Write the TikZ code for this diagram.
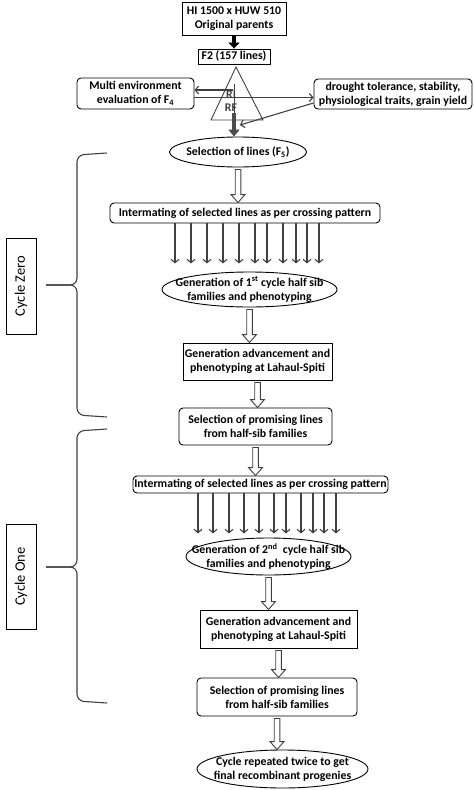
\documentclass[tikz,border=0pt]{standalone}
\usepackage{fontspec}
\setmainfont{Carlito}
\usetikzlibrary{arrows.meta,shapes.geometric,calc}
\definecolor{linegray}{RGB}{64,64,64}
\newcommand{\flowfont}{\bfseries\fontsize{11.8}{14}\selectfont}
\newcommand{\cyclefont}{\fontsize{14.5}{16}\selectfont}

\tikzset{
  stepbox/.style={draw, line width=0.9pt, font=\flowfont, align=center, inner sep=1.5pt},
  roundbox/.style={stepbox, rounded corners=4pt},
  ovalbox/.style={draw, line width=0.9pt, ellipse, inner sep=0pt},
  thinarr/.style={draw=linegray, line width=1.1pt, -{Straight Barb[length=3.5pt,width=8pt]}},
  hollowarr/.style={draw=linegray, line width=0.9pt, fill=white,
    to path={let \p1=(\tikztostart), \p2=(\tikztotarget) in
      (\x1-2.8pt,\y1-2pt) -- (\x1-2.8pt,\y2+8pt) -- (\x1-7pt,\y2+8pt) -- (\x1,\y2)
      -- (\x1+7pt,\y2+8pt) -- (\x1+2.8pt,\y2+8pt) -- (\x1+2.8pt,\y1-2pt) -- cycle}},
  cyclebrace/.style={draw=linegray, line width=1.1pt, rounded corners=7pt},
  cyclebox/.style={draw, line width=0.9pt, rotate=90, font=\cyclefont, minimum height=30pt}
}

\begin{document}
\begin{tikzpicture}[x=1pt, y=-1pt]
    \useasboundingbox (0,0) rectangle (474,790);
    % parents and F2
    \node[stepbox, minimum width=104pt, minimum height=33pt] (parents) at (234,18.5) {HI 1500 x HUW 510\\Original parents};
    \node[stepbox, minimum width=72pt, minimum height=15pt, inner sep=1pt] (ftwo) at (234,56.5) {F2 (157 lines)};
    \draw[line width=4pt, -{Triangle[length=6pt,width=11pt]}] (parents) -- (ftwo);
    % RIL triangle and side boxes
    \draw[linegray, line width=0.9pt] (236,67) coordinate (tritop) -- (211,120) coordinate (trileft) -- (263,120) coordinate (triright) -- cycle;
    \node[roundbox, minimum width=117pt, minimum height=31pt] (multi) at (135.5,93.5) {Multi environment\\evaluation of F\textsubscript{4}};
    \node[roundbox, minimum width=158pt, minimum height=30pt] (trait) at (393,94) {drought tolerance, stability,\\physiological traits, grain yield};
    \coordinate (riend) at (233,90);
    \coordinate (lowrow) at (0,97.5);
    \coordinate (rfend) at (240,125);
    \coordinate (rfarrow) at (234,113);
    \draw[thinarr] (riend) -- (riend -| multi.east);
    \draw[thinarr] (multi.east |- lowrow) -- (trait.west |- lowrow);
    \draw[thinarr] ([yshift=-9pt]trait.west) -- (rfend);
    \draw[linegray] (234,84) -- (rfarrow);
    \node[font=\flowfont, text=linegray, inner sep=0pt] (ri) at (231,95) {RI};
    \node[font=\flowfont, text=linegray, inner sep=0pt] (rf) at (231,108) {RF};
    % cycle zero
    \node[ovalbox, minimum width=137pt, minimum height=30pt, label={[font=\flowfont]center:Selection of lines (F\textsubscript{5})}] (sel) at (238,152) {};
    \draw[line width=4pt, black!70, -{Triangle[length=7pt,width=11pt]}] (rfarrow) -- (sel.north -| rfarrow);
    \node[roundbox, minimum width=270pt, minimum height=20pt, inner sep=1pt] (mate1) at (245,213) {Intermating of selected lines as per crossing pattern};
    \foreach \x in {175,191,207,223,239,255,267,283,296,307,319}
      \draw[thinarr] (mate1.south -| \x,0) -- ++(0,40);
    \node[ovalbox, minimum width=175pt, minimum height=35pt, label={[font=\flowfont, align=center]center:{Generation of 1\textsuperscript{st} cycle half sib\\families and phenotyping}}] (gen1) at (249.5,289.5) {};
    \node[stepbox, minimum width=149pt, minimum height=37pt] (adv1) at (257.5,361.5) {Generation advancement and\\phenotyping at Lahaul-Spiti};
    \node[roundbox, minimum width=153pt, minimum height=37pt] (prom1) at (255.5,426.5) {Selection of promising lines\\from half-sib families};
    % cycle one
    \node[roundbox, minimum width=255pt, minimum height=17pt, inner sep=1pt] (mate2) at (260.5,484.5) {Intermating of selected lines as per crossing pattern};
    \foreach \x in {198,213,229,244,259,274,286,301,313,324,336}
      \draw[thinarr] (mate2.south -| \x,0) -- ++(0,40);
    \node[ovalbox, minimum width=165pt, minimum height=37pt, label={[font=\flowfont, align=center]center:{Generation of 2\textsuperscript{nd}\ \ cycle half sib\\families and phenotyping}}] (gen2) at (268.5,556.5) {};
    \node[stepbox, minimum width=157pt, minimum height=38pt] (adv2) at (278.5,629) {Generation advancement and\\phenotyping at Lahaul-Spiti};
    \node[roundbox, minimum width=160pt, minimum height=38pt] (prom2) at (277,697) {Selection of promising lines\\from half-sib families};
    \node[ovalbox, minimum width=171pt, minimum height=38pt, label={[font=\flowfont, align=center]center:{Cycle repeated twice to get\\final recombinant progenies}}] (final) at (282.5,769) {};
    \foreach \a/\b in {sel/mate1, gen1/adv1, adv1/prom1, prom1/mate2, gen2/adv2, adv2/prom2, prom2/final}
      \draw[hollowarr] (\a.south) to (\b.north);
    % braces and cycle labels
    \draw[cyclebrace] (107,153) -- (77,155) -- (77,285) -- (46,285);
    \draw[cyclebrace] (46,285) -- (77,285) -- (77,415) -- (107,417);
    \draw[cyclebrace] (107,429) -- (77,431) -- (77,567) -- (46,567);
    \draw[cyclebrace] (46,567) -- (77,567) -- (77,701) -- (107,703);
    \node[cyclebox, minimum width=96pt] (zero) at (21,286) {Cycle Zero};
    \node[cyclebox, minimum width=105pt] (one) at (21,576.5) {Cycle One};
\end{tikzpicture}
\end{document}
